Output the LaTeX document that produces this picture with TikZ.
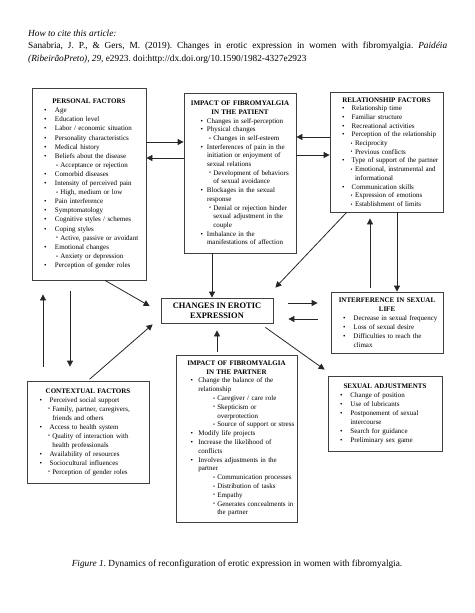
\documentclass[tikz,border=0pt]{standalone}
\usepackage{fontspec}
\setmainfont{Liberation Serif}
\usetikzlibrary{arrows.meta}
\frenchspacing

% indents of the bullet lists in the boxes
\newlength{\bulx}\setlength{\bulx}{12pt}
\newlength{\txtx}\setlength{\txtx}{22.5pt}
\newlength{\subx}\setlength{\subx}{22pt}
\newcommand{\fhead}[1]{\hbox to\hsize{\hss\bfseries #1\hss}}
\newcommand{\fitem}[1]{\hbox to\hsize{\hskip\bulx\hbox to\dimexpr\txtx-\bulx\relax{\textbullet\hss}#1\hss}}
\newcommand{\fcont}[1]{\hbox to\hsize{\hskip\txtx #1\hss}}
\newcommand{\fsub}[1]{\hbox to\hsize{\hskip\subx\hbox to 4.3pt{\raisebox{0.3pt}{\fontsize{5.6}{5.6}\selectfont\textbullet}\hss}#1\hss}}
\newcommand{\fsubcont}[1]{\hbox to\hsize{\hskip\subx\hskip4.3pt #1\hss}}

\begin{document}
\begin{tikzpicture}[x=1pt,y=-1pt,
  factor/.style={draw=black!75, line width=0.8pt, inner xsep=0pt, inner ysep=2pt, font=\fontsize{7}{9}\selectfont},
  link/.style={-{Triangle[length=6pt,width=6pt]}, line width=0.8pt, black!85}]
\useasboundingbox (0,0) rectangle (474,613);

% citation and caption
\node[anchor=north west, text width=419pt, align=justify, inner sep=0pt, font=\fontsize{9.3}{12.7}\selectfont] (cite) at (28,29.5)
  {\textit{How to cite this article:}\\
   Sanabria, J. P., \& Gers, M. (2019). Changes in erotic expression in women with fibromyalgia. \textit{Paidéia}\linebreak
   \textit{(RibeirãoPreto), 29,} e2923. doi:http://dx.doi.org/10.1590/1982-4327e2923};
\node[font=\fontsize{9.3}{11}\selectfont] (caption) at (237,564)
  {\textit{Figure 1}. Dynamics of reconfiguration of erotic expression in women with fibromyalgia.};

% boxes
\node[factor, text width=114pt, minimum height=192pt, font=\fontsize{7}{9.1}\selectfont] (personal) at (89,184) {%
  \setlength{\txtx}{23pt}\setlength{\subx}{24pt}%
  \fhead{PERSONAL FACTORS}
  \fitem{Age}
  \fitem{Education level}
  \fitem{Labor / economic situation}
  \fitem{Personality characteristics}
  \fitem{Medical history}
  \fitem{Beliefs about the disease}
  \fsub{Acceptance or rejection}
  \fitem{Comorbid diseases}
  \fitem{Intensity of perceived pain}
  \fsub{High, medium or low}
  \fitem{Pain interference}
  \fitem{Symptomatology}
  \fitem{Cognitive styles / schemes}
  \fitem{Coping styles}
  \fsub{Active, passive or avoidant}
  \fitem{Emotional changes}
  \fsub{Anxiety or depression}
  \fitem{Perception of gender roles}};

\node[factor, text width=112pt, minimum height=160pt, font=\fontsize{7}{8.7}\selectfont] (patient) at (240,173) {%
  \setlength{\bulx}{16.7pt}\setlength{\txtx}{23pt}\setlength{\subx}{25pt}%
  \fhead{IMPACT OF FIBROMYALGIA}
  \fhead{IN THE PATIENT}
  \fitem{Changes in self-perception}
  \fitem{Physical changes}
  \fsub{Changes in self-esteem}
  \fitem{Interferences of pain in the}
  \fcont{initiation or enjoyment of}
  \fcont{sexual relations}
  \fsub{Development of behaviors}
  \fsubcont{of sexual avoidance}
  \fitem{Blockages in the sexual}
  \fcont{response}
  \fsub{Denial or rejection hinder}
  \fsubcont{sexual adjustment in the}
  \fsubcont{couple}
  \fitem{Imbalance in the}
  \fcont{manifestations of affection}};

\node[factor, text width=113pt, minimum height=120pt, font=\fontsize{7}{8.7}\selectfont] (relation) at (386.5,152) {%
  \setlength{\txtx}{21.7pt}\setlength{\subx}{20.7pt}%
  \fhead{RELATIONSHIP FACTORS}
  \fitem{Relationship time}
  \fitem{Familiar structure}
  \fitem{Recreational activities}
  \fitem{Perception of the relationship}
  \fsub{Reciprocity}
  \fsub{Previous conflicts}
  \fitem{Type of support of the partner}
  \fsub{Emotional, instrumental and}
  \fsubcont{informational}
  \fitem{Communication skills}
  \fsub{Expression of emotions}
  \fsub{Establishment of limits}};

\node[draw=black!75, line width=0.8pt, minimum width=112pt, minimum height=25pt, align=center,
  font=\fontsize{8.4}{10}\selectfont\bfseries] (changes) at (217,310.5) {CHANGES IN EROTIC\\EXPRESSION};

\node[factor, text width=112pt, minimum height=61pt] (interf) at (387,322.5) {%
  \fhead{INTERFERENCE IN SEXUAL}
  \fhead{LIFE}
  \fitem{Decrease in sexual frequency}
  \fitem{Loss of sexual desire}
  \fitem{Difficulties to reach the}
  \fcont{climax}};

\node[factor, text width=122pt, minimum height=102pt] (context) at (88,432) {%
  \setlength{\bulx}{12.7pt}\setlength{\txtx}{22.7pt}\setlength{\subx}{21pt}%
  \fhead{CONTEXTUAL FACTORS}
  \fitem{Perceived social support}
  \fsub{Family, partner, caregivers,}
  \fsubcont{friends and others}
  \fitem{Access to health system}
  \fsub{Quality of interaction with}
  \fsubcont{health professionals}
  \fitem{Availability of resources}
  \fitem{Sociocultural influences}
  \fsub{Perception of gender roles}};

\node[factor, text width=121pt, minimum height=167pt, font=\fontsize{7}{8.8}\selectfont] (partner) at (236.5,438.5) {%
  \setlength{\bulx}{14.7pt}\setlength{\txtx}{22.3pt}\setlength{\subx}{37pt}%
  \fhead{IMPACT OF FIBROMYALGIA}
  \fhead{IN THE PARTNER}
  \fitem{Change the balance of the}
  \fcont{relationship}
  \fsub{Caregiver / care role}
  \fsub{Skepticism or}
  \fsubcont{overprotection}
  \fsub{Source of support or stress}
  \fitem{Modify life projects}
  \fitem{Increase the likelihood of}
  \fcont{conflicts}
  \fitem{Involves adjustments in the}
  \fcont{partner}
  \fsub{Communication processes}
  \fsub{Distribution of tasks}
  \fsub{Empathy}
  \fsub{Generates concealments in}
  \fsubcont{the partner}};

\node[factor, text width=114pt, minimum height=75pt] (adjust) at (385,413.5) {%
  \fhead{SEXUAL ADJUSTMENTS}
  \fitem{Change of position}
  \fitem{Use of lubricants}
  \fitem{Postponement of sexual}
  \fcont{intercourse}
  \fitem{Search for guidance}
  \fitem{Preliminary sex game}};

% connectors
\draw[link] ([yshift=42pt]personal.east) -- ([yshift=42pt]personal.east -| patient.west);
\draw[link] ([yshift=26pt]personal.east -| patient.west) -- ([yshift=26pt]personal.east);
\draw[link] ([yshift=15pt]relation.west) -- ([yshift=15pt]relation.west -| patient.east);
\draw[link] ([yshift=-3pt]relation.west -| patient.east) -- ([yshift=-3pt]relation.west);
\draw[link] ([xshift=-28pt]patient.south) -- ([xshift=-28pt]patient.south |- changes.north);
\draw[link] ([xshift=17pt]relation.south west) -- ([xshift=2pt,yshift=10pt]changes.north east);
\draw[link, shorten <=15pt, shorten >=13pt] ([yshift=7.5pt]changes.east) -- ([yshift=7.5pt]changes.east -| interf.west);
\draw[link, shorten <=13pt, shorten >=15pt] ([yshift=-8.5pt]changes.east -| interf.west) -- ([yshift=-8.5pt]changes.east);
\draw[link] ([xshift=10.5pt]relation.south) -- ([xshift=10.5pt]relation.south |- interf.north);
\draw[link, shorten <=4pt, shorten >=6pt] ([xshift=-16.5pt]relation.south |- interf.north) -- ([xshift=-16.5pt]relation.south);
\draw[link] ([xshift=16pt]personal.south) -- ([xshift=-11pt,yshift=4.5pt]changes.west);
\draw[link, shorten <=2pt] (context.north) -- ([xshift=-8pt,yshift=-1pt]changes.south west);
\draw[link, shorten <=14pt, shorten >=14pt] ([xshift=-45pt]context.north) -- ([xshift=-45pt]context.north |- personal.south);
\draw[link, shorten <=11pt, shorten >=14pt] ([xshift=-18pt]context.north |- personal.south) -- ([xshift=-18pt]context.north);
\draw[link, shorten <=3pt, shorten >=7pt] ([xshift=-19.5pt]partner.north) -- ([xshift=-19.5pt]partner.north |- changes.south);
\draw[link] ([xshift=-8pt,yshift=-4pt]changes.south east) -- ([xshift=-3pt,yshift=6pt]adjust.north west);
\end{tikzpicture}
\end{document}
